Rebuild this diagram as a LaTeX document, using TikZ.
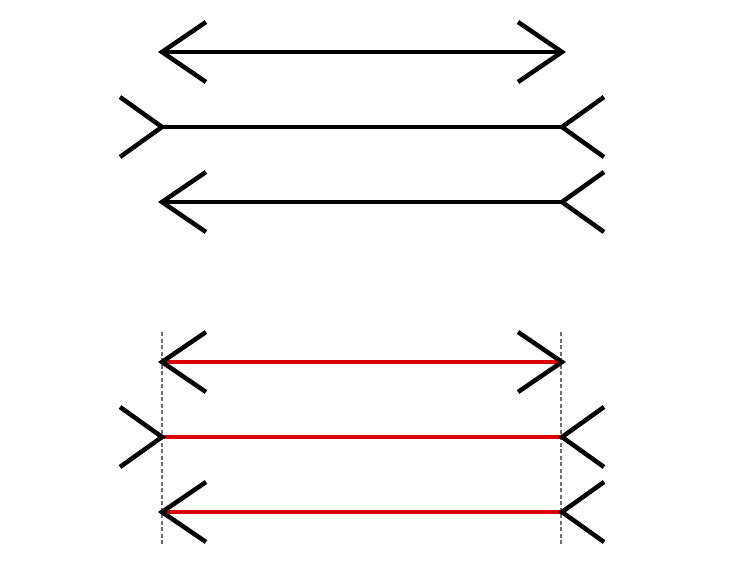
\documentclass[tikz,border=0pt]{standalone}
\begin{document}
\begin{tikzpicture}[x=1pt,y=-1pt,
  shaft/.style={line width=4.5pt, draw=black},
  redshaft/.style={line width=4.5pt, draw={rgb,255:red,220;green,0;blue,0}},
  fin/.style={line width=4.5pt, line join=miter, draw=black},
  guide/.style={line width=1.2pt, draw={rgb,255:red,110;green,110;blue,110}, dash pattern=on 4pt off 2.5pt}]
\useasboundingbox (0,0) rectangle (750,562);
\fill[white] (0,0) rectangle (750,562);
% ---------- top group ----------
\draw[shaft] (162,52) -- (562,52);
\draw[shaft] (162,127) -- (562,127);
\draw[shaft] (162,202) -- (562,202);
% row 1: < ... >
\draw[fin] (206,22) -- (162,52) -- (206,82);
\draw[fin] (518,22) -- (562,52) -- (518,82);
% row 2: > ... <
\draw[fin] (120,97) -- (162,127) -- (120,157);
\draw[fin] (604,97) -- (562,127) -- (604,157);
% row 3: < ... <
\draw[fin] (206,172) -- (162,202) -- (206,232);
\draw[fin] (604,172) -- (562,202) -- (604,232);
% ---------- bottom group ----------
\coordinate (gL1) at (162,332);
\coordinate (gL2) at (162,545);
\coordinate (gR1) at (561,332);
\coordinate (gR2) at (561,545);
\draw[guide] (gL1) -- (gL2);
\draw[guide] (gR1) -- (gR2);
\draw[redshaft] (162,362) -- (562,362);
\draw[redshaft] (162,437) -- (562,437);
\draw[redshaft] (162,512) -- (562,512);
\draw[fin] (206,332) -- (162,362) -- (206,392);
\draw[fin] (518,332) -- (562,362) -- (518,392);
\draw[fin] (120,407) -- (162,437) -- (120,467);
\draw[fin] (604,407) -- (562,437) -- (604,467);
\draw[fin] (206,482) -- (162,512) -- (206,542);
\draw[fin] (604,482) -- (562,512) -- (604,542);
\end{tikzpicture}
\end{document}
